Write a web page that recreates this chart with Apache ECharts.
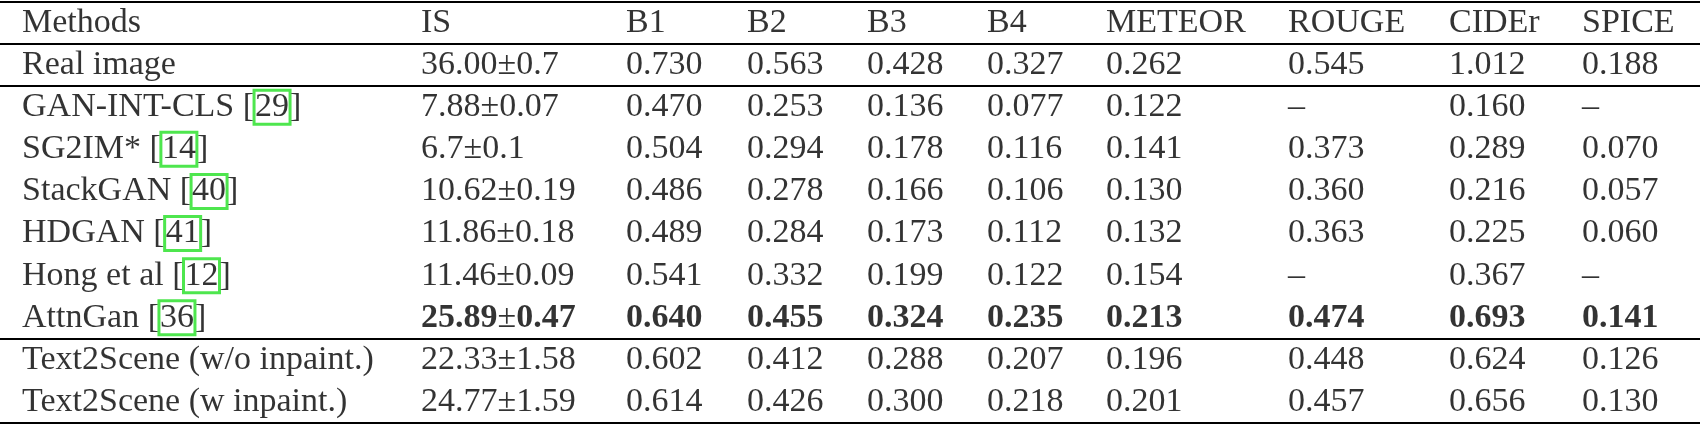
<!DOCTYPE html>
<html>
<head>
<meta charset="utf-8">
<script src="https://cdn.jsdelivr.net/npm/echarts@6/dist/echarts.min.js"></script>
<style>
html, body { margin: 0; padding: 0; background: #fff; }
#table { width: 1700px; height: 427px; }
</style>
</head>
<body>
<div id="table"></div>
<script>
// table content
var headers = ['Methods', 'IS', 'B1', 'B2', 'B3', 'B4', 'METEOR', 'ROUGE', 'CIDEr', 'SPICE'];
var methods = ['Real image', 'GAN-INT-CLS', 'SG2IM*', 'StackGAN', 'HDGAN', 'Hong et al', 'AttnGan',
    'Text2Scene (w/o inpaint.)', 'Text2Scene (w inpaint.)'];
var cites = ['', '29', '14', '40', '41', '12', '36', '', ''];
var isMean = ['36.00', '7.88', '6.7', '10.62', '11.86', '11.46', '25.89', '22.33', '24.77'];
var isStd = ['0.7', '0.07', '0.1', '0.19', '0.18', '0.09', '0.47', '1.58', '1.59'];
var b1 = [0.730, 0.470, 0.504, 0.486, 0.489, 0.541, 0.640, 0.602, 0.614];
var b2 = [0.563, 0.253, 0.294, 0.278, 0.284, 0.332, 0.455, 0.412, 0.426];
var b3 = [0.428, 0.136, 0.178, 0.166, 0.173, 0.199, 0.324, 0.288, 0.300];
var b4 = [0.327, 0.077, 0.116, 0.106, 0.112, 0.122, 0.235, 0.207, 0.218];
var meteor = [0.262, 0.122, 0.141, 0.130, 0.132, 0.154, 0.213, 0.196, 0.201];
var rouge = [0.545, null, 0.373, 0.360, 0.363, null, 0.474, 0.448, 0.457];
var cider = [1.012, 0.160, 0.289, 0.216, 0.225, 0.367, 0.693, 0.624, 0.656];
var spice = [0.188, null, 0.070, 0.057, 0.060, null, 0.141, 0.126, 0.130];
var boldRow = 6;   // AttnGan is best among baselines

// layout: left edge of each column on the 0..1700 x axis, and rows that get a rule above
var colLeft = [22, 421, 626, 747, 867, 987, 1106, 1288, 1449, 1582];
var ruleBefore = [1, 2, 8];

var font = 'Liberation Serif';
var fsize = 34;
var ink = '#000';
var rows = ['Methods'].concat(methods);
var numCols = [b1, b2, b3, b4, meteor, rouge, cider, spice];

function methodText(i) {
    var s = methods[i];
    if (cites[i]) s += ' [{c|' + cites[i] + '}]';
    return s;
}
function isText(i) {
    if (i == boldRow) return '{b|' + isMean[i] + '}±{b|' + isStd[i] + '}';
    return isMean[i] + '±' + isStd[i];
}
function numText(v, i) {
    var s = v == null ? '–' : v.toFixed(3);
    if (i == boldRow) return '{b|' + s + '}';
    return s;
}

function makeSeries(col, texts) {
    var data = [{ value: [colLeft[col], rows[0]], txt: headers[col] }];
    for (var i = 0; i < methods.length; i++) {
        data.push({ value: [colLeft[col], rows[i + 1]], txt: texts[i] });
    }
    return {
        type: 'scatter',
        symbolSize: 0.1,
        itemStyle: { color: 'rgba(0,0,0,0)' },
        silent: true,
        data: data,
        label: {
            show: true,
            position: 'right',
            distance: 0,
            fontFamily: font,
            fontSize: fsize,
            color: ink,
            formatter: function (p) { return p.data.txt; },
            rich: {
                b: { fontWeight: 'bold', fontFamily: font, fontSize: fsize, color: ink },
                c: { fontFamily: font, fontSize: fsize, color: ink, borderColor: '#22e022', borderWidth: 3, padding: [0, 1, 0, 1] }
            }
        }
    };
}

var series = [];
series.push(makeSeries(0, methods.map(function (m, i) { return methodText(i); })));
series.push(makeSeries(1, methods.map(function (m, i) { return isText(i); })));
numCols.forEach(function (arr, k) {
    series.push(makeSeries(k + 2, arr.map(numText)));
});

var chart = echarts.init(document.getElementById('table'));
var axisX = {
    type: 'value', min: 0, max: 1700,
    axisLine: { show: true, lineStyle: { color: ink, width: 2 } },
    axisTick: { show: false }, axisLabel: { show: false }, splitLine: { show: false }
};
chart.setOption({
    animation: false,
    grid: { left: 0, right: 0, top: 2, bottom: 4 },
    xAxis: [axisX, Object.assign({}, axisX, { position: 'top' })],
    yAxis: {
        type: 'category',
        data: rows,
        inverse: true,
        axisLine: { show: false }, axisTick: { show: false }, axisLabel: { show: false },
        splitLine: {
            show: true,
            interval: function (idx) { return ruleBefore.indexOf(idx) >= 0; },
            lineStyle: { color: ink, width: 1.8 }
        }
    },
    series: series
});
</script>
</body>
</html>
